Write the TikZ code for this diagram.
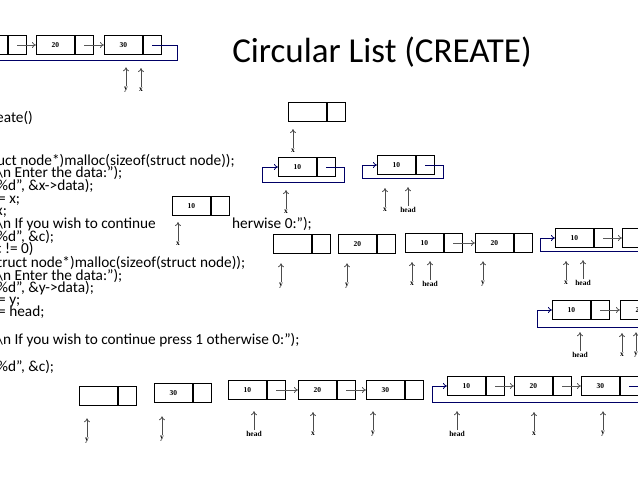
\documentclass[tikz,border=0pt]{standalone}
\usepackage{fontspec}
\setmainfont{Carlito}
\newfontfamily\serifb{Liberation Serif}
\usetikzlibrary{arrows.meta}
\tikzset{
 cell/.style={draw=black,line width=0.9pt,minimum height=19pt,inner sep=0pt,font=\serifb\bfseries\fontsize{7.5}{8}\selectfont},
 dcell/.style={cell,minimum width=38pt},
 pcell/.style={cell,minimum width=18pt},
 nxt/.style={draw=gray!70!black,line width=0.8pt,-{To[length=4pt,width=6pt]}},
 loopc/.style={draw=blue!40!black,line width=0.8pt},
 ptr/.style={draw=gray!60!black,line width=0.8pt,-{To[length=4pt,width=6pt]}},
 lab/.style={font=\serifb\bfseries\fontsize{7.5}{8}\selectfont,inner sep=1pt},
 code/.style={anchor=base west,inner sep=0pt,font=\fontsize{15.3}{16}\selectfont},
}
\newcommand\lbox[4]{\node[dcell,anchor=west] (#1) at (#2,#3) {#4};\node[pcell,anchor=west] (#1p) at (#1.east) {};}
\newcommand\ptrto[4]{\node[lab] (#1) at (#2,#3) {#4};\draw[ptr] (#1.north) -- ++(0,-19);}
\newcommand\q{\symbol{"22}}
\begin{document}
\begin{tikzpicture}[x=1pt,y=-1pt]
\useasboundingbox (0,0) rectangle (638,493);
\begin{scope}
\clip (0,0) rectangle (638,493);
% title
\node[font=\fontsize{35}{38}\selectfont] (title) at (382,52) {Circular List (CREATE)};
% code
\node[code] (c1) at (-4,122) {eate()};
\node[code] (c2) at (-3,165) {uct node*)malloc(sizeof(struct node));};
\node[code] (c3) at (-3,177) {\textbackslash n Enter the data:\q);};
\node[code] (c4) at (-3,190) {\%d\q, \&x->data);};
\node[code] (c5) at (-2,203) {= x;};
\node[code] (c6) at (-4,215) {x;};
\node[code] (c7) at (-3,228) {\textbackslash n If you wish to continue};
\node[code] (c7b) at (232,228) {herwise 0:\q);};
\node[code] (c8) at (-3,241) {\%d\q, \&c);};
\node[code] (c9) at (-5,253) {c != 0)};
\node[code] (c10) at (-3,267) {truct node*)malloc(sizeof(struct node));};
\node[code] (c11) at (-3,280) {\textbackslash n Enter the data:\q);};
\node[code] (c12) at (-3,292) {\%d\q, \&y->data);};
\node[code] (c13) at (-2,304) {= y;};
\node[code] (c14) at (-2,316) {= head;};
\node[code] (c15) at (-3,344) {\textbackslash n If you wish to continue press 1 otherwise 0:\q);};
\node[code] (c16) at (-3,371) {\%d\q, \&c);};
% top row
\lbox{ta}{-31}{45}{}
\lbox{tb}{36}{45}{20}
\lbox{tc}{104}{45}{30}
\draw[nxt] (tap.center) -- (tb.west);
\draw[nxt] (tbp.center) -- (tc.west);
\draw[loopc] (tcp.center) -- (177,45) -- (177,60) -- (0,60);
\ptrto{t1}{126}{90}{y}\ptrto{t2}{141}{90}{x}
% middle
\lbox{m1}{288}{112}{}
\ptrto{m1l}{293}{151}{x}
\lbox{m2}{278}{167}{10}
\draw[loopc,-{To[length=4pt,width=6pt]}] (m2p.center) -- (344,167) -- (344,182) -- (262,182) -- (262,167) -- (m2.west);
\ptrto{m2l}{286}{212}{x}
\lbox{m3}{377}{165}{10}
\draw[loopc,-{To[length=4pt,width=6pt]}] (m3p.center) -- (443,165) -- (443,178) -- (362,178) -- (362,165) -- (m3.west);
\ptrto{m3a}{385}{210}{x}\ptrto{m3b}{408}{210}{head}
\lbox{m4}{172}{206}{10}
\ptrto{m4l}{178}{244}{x}
% row at 243
\lbox{r1}{273}{244}{}
\ptrto{r1l}{281}{286}{y}
\lbox{r2}{338}{244}{20}
\ptrto{r2l}{347}{286}{y}
\lbox{r3}{405}{243}{10}
\lbox{r4}{475}{243}{20}
\draw[nxt] (r3p.center) -- (r4.west);
\ptrto{r3a}{412}{284}{x}\ptrto{r3b}{430}{284}{head}
\ptrto{r4l}{483}{284}{y}
\lbox{r5}{555}{238}{10}
\lbox{r6}{622}{238}{}
\draw[nxt] (r5p.center) -- (r6.west);
\draw[loopc,-{To[length=4pt,width=6pt]}] (638,251) -- (540,251) -- (540,238) -- (r5.west);
\ptrto{r5a}{566}{283}{x}\ptrto{r5b}{583}{283}{head}
% row at 310
\lbox{s1}{552}{310}{10}
\lbox{s2}{620}{310}{20}
\draw[nxt] (s1p.center) -- (s2.west);
\draw[loopc,-{To[length=4pt,width=6pt]}] (638,327) -- (537,327) -- (537,310) -- (s1.west);
\ptrto{s1a}{580}{355}{head}\ptrto{s1b}{622}{355}{x}\ptrto{s1c}{636}{355}{y}
% bottom row
\lbox{b1}{79}{396}{}
\ptrto{b1l}{87}{441}{y}
\lbox{b2}{154}{393}{30}
\ptrto{b2l}{162}{439}{y}
\lbox{b3}{228}{390}{10}
\lbox{b4}{298}{390}{20}
\lbox{b5}{366}{390}{30}
\draw[nxt] (b3p.center) -- (b4.west);
\draw[nxt] (b4p.center) -- (b5.west);
\ptrto{b3l}{254}{434}{head}\ptrto{b4l}{313}{434}{x}\ptrto{b5l}{373}{434}{y}
\lbox{b6}{447}{386}{10}
\lbox{b7}{514}{386}{20}
\lbox{b8}{581}{386}{30}
\draw[nxt] (b6p.center) -- (b7.west);
\draw[nxt] (b7p.center) -- (b8.west);
\draw[loopc] (b8p.center) -- (638,386);
\draw[loopc,-{To[length=4pt,width=6pt]}] (638,402) -- (432,402) -- (432,386) -- (b6.west);
\ptrto{b6l}{457}{434}{head}\ptrto{b7l}{534}{434}{x}\ptrto{b8l}{603}{434}{y}
\end{scope}
\end{tikzpicture}
\end{document}
